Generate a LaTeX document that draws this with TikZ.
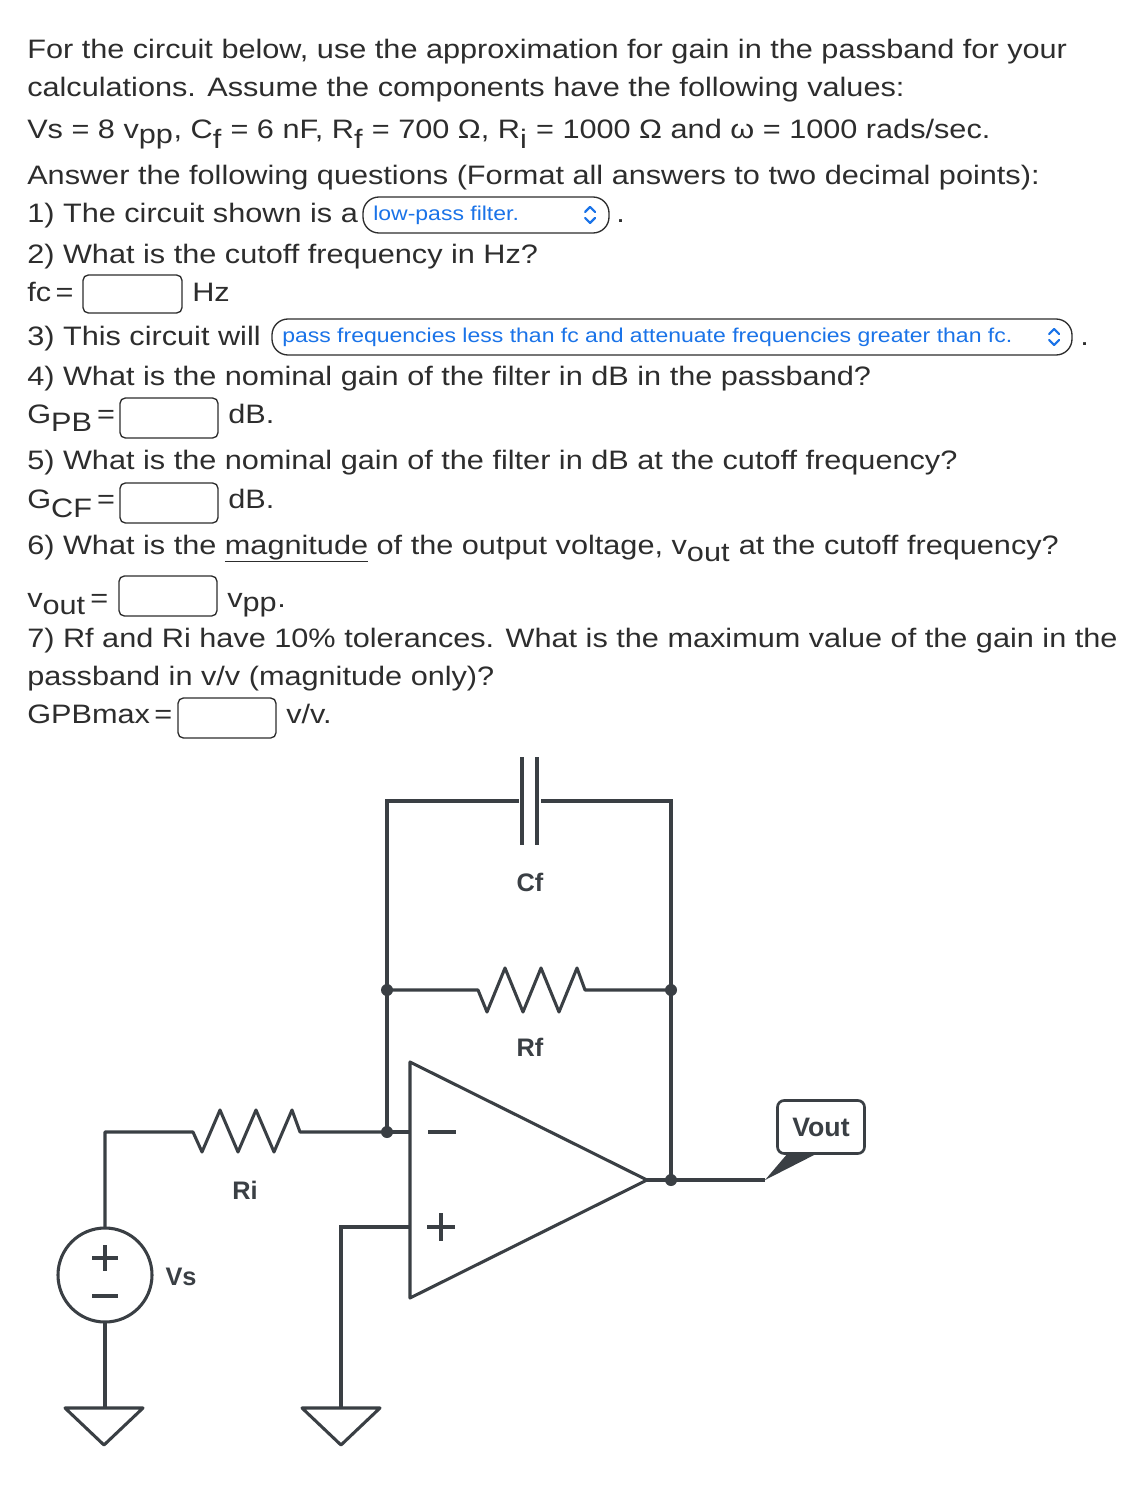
\documentclass[tikz,border=0pt]{standalone}
\usepackage{fontspec}
\setmainfont[FakeStretch=1.15]{Liberation Sans}
\newfontfamily\plainsans{Liberation Sans}
\definecolor{txt}{HTML}{2D2D2D}
\definecolor{wire}{HTML}{3A3F44}
\definecolor{sel}{HTML}{1A73E8}
\begin{document}
\begin{tikzpicture}[x=0.75pt,y=-0.75pt,
  line/.style={anchor=base west,inner sep=0,text=txt,font=\fontsize{20}{24}\selectfont},
  ibox/.style={draw=txt,line width=1pt,rounded corners=4pt},
  dbox/.style={draw=txt,line width=1pt,rounded corners=12pt},
  dtext/.style={anchor=west,inner sep=0,text=sel,font=\fontsize{15}{18}\selectfont},
  w/.style={draw=wire,line width=2.3pt},
  lbl/.style={text=wire,font=\plainsans\bfseries\fontsize{19}{22}\selectfont,inner sep=0},
  dot/.style={circle,fill=wire,inner sep=0,minimum size=9pt}]
\useasboundingbox (0,0) rectangle (1132,1498);
\fill[white] (0,0) rectangle (1132,1498);
% text
\node[line] (l1) at (27,59) {For the circuit below, use the approximation for gain in the passband for your};
\node[line] (l2) at (27,97) {calculations. Assume the components have the following values:};
\node[line] (l3) at (27,139) {Vs = 8 v$_{\mbox{pp}}$, C$_{\mbox{f}}$ = 6 nF, R$_{\mbox{f}}$ = 700 Ω, R$_{\mbox{i}}$ = 1000 Ω and ω = 1000 rads/sec.};
\node[line] (l4) at (27,185) {Answer the following questions (Format all answers to two decimal points):};
\node[line] (l5) at (27,223) {1) The circuit shown is a};
\node[line] (l5b) at (616,223) {.};
\node[line] (l6) at (27,263) {2) What is the cutoff frequency in Hz?};
\node[line] (l7) at (27,301) {fc\,=};
\node[line] (l7b) at (192,301) {Hz};
\node[line] (l8) at (27,345) {3) This circuit will};
\node[line] (l8b) at (1080,345) {.};
\node[line] (l9) at (27,385) {4) What is the nominal gain of the filter in dB in the passband?};
\node[line] (l10) at (27,423) {G$_{\mbox{PB}}$\,=};
\node[line] (l10b) at (228,423) {dB.};
\node[line] (l11) at (27,469) {5) What is the nominal gain of the filter in dB at the cutoff frequency?};
\node[line] (l12) at (27,508) {G$_{\mbox{CF}}$\,=};
\node[line] (l12b) at (228,508) {dB.};
\node[line] (l13) at (27,554) {6) What is the \underline{magnitude} of the output voltage, v$_{\mbox{out}}$ at the cutoff frequency?};
\node[line] (l14) at (27,607) {v$_{\mbox{out}}$\,=};
\node[line] (l14b) at (227,607) {v$_{\mbox{pp}}$.};
\node[line] (l15) at (27,647) {7) Rf and Ri have 10\% tolerances. What is the maximum value of the gain in the};
\node[line] (l16) at (27,685) {passband in v/v (magnitude only)?};
\node[line] (l17) at (27,723) {GPBmax\,=};
\node[line] (l17b) at (286,723) {v/v.};
% boxes
\draw[ibox] (83,275) rectangle (182,313);
\draw[ibox] (120,398) rectangle (218,438);
\draw[ibox] (120,483) rectangle (218,523);
\draw[ibox] (119,576) rectangle (217,616);
\draw[ibox] (178,698) rectangle (276,738);
\draw[dbox] (363,197) rectangle (609,233);
\node[dtext] (d1) at (373,215) {low-pass filter.};
\draw[dbox] (272,319) rectangle (1072,355);
\node[dtext] (d2) at (282,337) {pass frequencies less than fc and attenuate frequencies greater than fc.};
\foreach \cx/\cy in {590/215,1054/337}{
  \draw[sel,line width=1.6pt,line cap=round,line join=round] (\cx-5,\cy-3) -- (\cx,\cy-8) -- (\cx+5,\cy-3);
  \draw[sel,line width=1.6pt,line cap=round,line join=round] (\cx-5,\cy+3) -- (\cx,\cy+8) -- (\cx+5,\cy+3);}
% circuit
\coordinate (tl) at (387,801); \coordinate (tr) at (671,801);
\node[dot] (n1) at (387,990) {}; \node[dot] (n2) at (671,990) {};
\node[dot] (n3) at (387,1132) {}; \node[dot] (n4) at (671,1180) {};
\draw[w] (n3.center) -- (tl) -- (519,801);
\draw[w] (541,801) -- (tr) -- (n4.center);
\draw[w] (522,757) -- (522,845); \draw[w] (537,757) -- (537,845);
\node[lbl] (cf) at (530,882) {Cf};
\draw[w,line join=round] (n1.center) -- (478,990) -- (487,1012) -- (505,968) -- (523,1012) -- (541,968) -- (559,1012) -- (577,968) -- (585,990) -- (n2.center);
\node[lbl] (rf) at (530,1047) {Rf};
\draw[w,line join=round] (410,1062) -- (410,1298) -- (647,1180) -- cycle;
\draw[w] (428,1132) -- (456,1132);
\draw[w] (441,1213) -- (441,1241); \draw[w] (427,1227) -- (455,1227);
\draw[w] (n3.center) -- (410,1132);
\draw[w] (n4.center) -- (647,1180);
% Ri
\coordinate (vs) at (105,1275);
\draw[w,line join=round] (105,1228) -- (105,1132) -- (193,1132) -- (202,1152) -- (220,1110) -- (238,1152) -- (256,1110) -- (274,1152) -- (292,1110) -- (300,1132) -- (n3.center);
\node[lbl] (ri) at (245,1190) {Ri};
\draw[w] (vs) circle[radius=47];
\draw[w] (105,1245) -- (105,1271); \draw[w] (92,1258) -- (118,1258);
\draw[w] (92,1296) -- (118,1296);
\node[lbl] (vsl) at (181,1277) {Vs};
\draw[w] (105,1322) -- (105,1408);
\draw[w,line join=round] (65,1408) -- (143,1408) -- (104,1445) -- cycle;
\draw[w] (410,1227) -- (341,1227) -- (341,1408);
\draw[w,line join=round] (302,1408) -- (380,1408) -- (341,1445) -- cycle;
% output
\draw[w] (n4.center) -- (765,1180);
\fill[wire] (765,1180) -- (788,1153) -- (818,1153) -- cycle;
\node[lbl,draw=wire,line width=2pt,rounded corners=5pt,minimum width=87pt*0.75,minimum height=53pt*0.75,font=\plainsans\bfseries\fontsize{20}{22}\selectfont] (vo) at (821,1127) {Vout};
\end{tikzpicture}
\end{document}
